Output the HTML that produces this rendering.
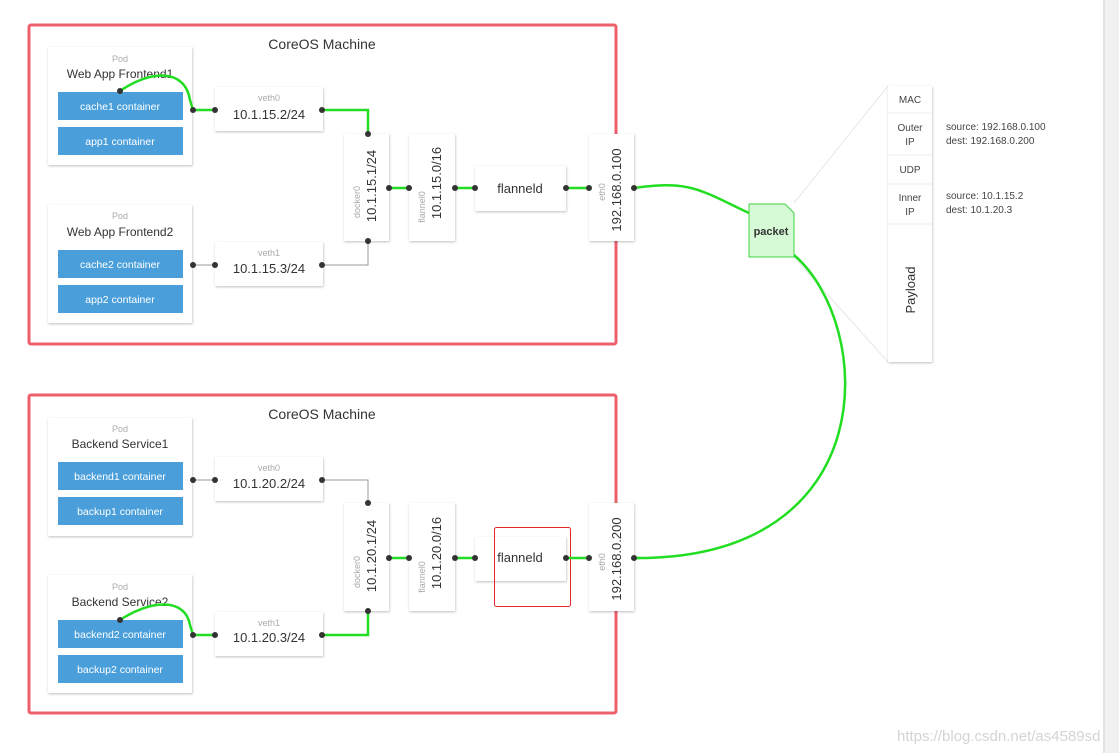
<!DOCTYPE html>
<html><head><meta charset="utf-8"><style>
html,body{margin:0;padding:0;background:#fff;width:1119px;height:753px;overflow:hidden}
svg{display:block;font-family:"Liberation Sans","DejaVu Sans",sans-serif}
.bx{fill:#fff;filter:url(#sh)}
.sm{font-size:9px;fill:#aaa}
.ip{font-size:13px;fill:#333}
.bl{fill:#4a9fdb}
.ct{font-size:10.5px;fill:#fff}
.g{stroke:#22dd22;stroke-width:2.5;fill:none}
.gr{stroke:#999;stroke-width:1;fill:none}
.d{fill:#333}
</style></head><body>
<svg width="1119" height="753" viewBox="0 0 1119 753" xmlns="http://www.w3.org/2000/svg">
<defs><filter id="sh" x="-10%" y="-10%" width="130%" height="130%"><feDropShadow dx="0.5" dy="1" stdDeviation="1.2" flood-color="#000" flood-opacity="0.25"/></filter></defs>

<!-- machines -->
<rect x="29" y="25" width="587" height="319" rx="2" fill="none" stroke="#ec5f6b" stroke-width="3"/>
<text x="322" y="49" text-anchor="middle" font-size="14" fill="#333">CoreOS Machine</text>
<rect x="29" y="395" width="587" height="318" rx="2" fill="none" stroke="#ec5f6b" stroke-width="3"/>
<text x="322" y="419" text-anchor="middle" font-size="14" fill="#333">CoreOS Machine</text>

<!-- packet detail lines -->
<line x1="794" y1="203" x2="888" y2="86" stroke="#e8e8e8"/>
<line x1="794" y1="257" x2="888" y2="362" stroke="#e8e8e8"/>

<!-- top pods -->
<rect class="bx" x="48" y="47" width="144" height="118"/>
<text x="120" y="62" text-anchor="middle" font-size="9" fill="#aaa">Pod</text>
<text x="120" y="78" text-anchor="middle" font-size="12" fill="#333">Web App Frontend1</text>
<rect class="bl" x="58" y="92" width="125" height="28"/><text class="ct" x="120" y="110" text-anchor="middle">cache1 container</text>
<rect class="bl" x="58" y="127" width="125" height="28"/><text class="ct" x="120" y="145" text-anchor="middle">app1 container</text>

<rect class="bx" x="48" y="205" width="144" height="118"/>
<text x="120" y="219" text-anchor="middle" font-size="9" fill="#aaa">Pod</text>
<text x="120" y="236" text-anchor="middle" font-size="12" fill="#333">Web App Frontend2</text>
<rect class="bl" x="58" y="250" width="125" height="28"/><text class="ct" x="120" y="268" text-anchor="middle">cache2 container</text>
<rect class="bl" x="58" y="285" width="125" height="28"/><text class="ct" x="120" y="303" text-anchor="middle">app2 container</text>

<!-- bottom pods -->
<rect class="bx" x="48" y="418" width="144" height="118"/>
<text x="120" y="432" text-anchor="middle" font-size="9" fill="#aaa">Pod</text>
<text x="120" y="448" text-anchor="middle" font-size="12" fill="#333">Backend Service1</text>
<rect class="bl" x="58" y="462" width="125" height="28"/><text class="ct" x="120" y="480" text-anchor="middle">backend1 container</text>
<rect class="bl" x="58" y="497" width="125" height="28"/><text class="ct" x="120" y="515" text-anchor="middle">backup1 container</text>

<rect class="bx" x="48" y="575" width="144" height="118"/>
<text x="120" y="590" text-anchor="middle" font-size="9" fill="#aaa">Pod</text>
<text x="120" y="606" text-anchor="middle" font-size="12" fill="#333">Backend Service2</text>
<rect class="bl" x="58" y="620" width="125" height="28"/><text class="ct" x="120" y="638" text-anchor="middle">backend2 container</text>
<rect class="bl" x="58" y="655" width="125" height="28"/><text class="ct" x="120" y="673" text-anchor="middle">backup2 container</text>

<!-- veth boxes -->
<rect class="bx" x="215" y="87" width="108" height="44"/>
<text x="269" y="101" text-anchor="middle" class="sm">veth0</text><text x="269" y="119" text-anchor="middle" class="ip">10.1.15.2/24</text>
<rect class="bx" x="215" y="242" width="108" height="44"/>
<text x="269" y="256" text-anchor="middle" class="sm">veth1</text><text x="269" y="273" text-anchor="middle" class="ip">10.1.15.3/24</text>
<rect class="bx" x="215" y="457" width="108" height="44"/>
<text x="269" y="471" text-anchor="middle" class="sm">veth0</text><text x="269" y="488" text-anchor="middle" class="ip">10.1.20.2/24</text>
<rect class="bx" x="215" y="612" width="108" height="44"/>
<text x="269" y="626" text-anchor="middle" class="sm">veth1</text><text x="269" y="642" text-anchor="middle" class="ip">10.1.20.3/24</text>

<!-- top vertical boxes -->
<rect class="bx" x="344" y="134" width="45" height="107"/>
<text class="sm" text-anchor="middle" transform="translate(360,202) rotate(-90)">docker0</text>
<text class="ip" text-anchor="middle" transform="translate(376,186) rotate(-90)">10.1.15.1/24</text>
<rect class="bx" x="409" y="134" width="46" height="107"/>
<text class="sm" text-anchor="middle" transform="translate(425,207) rotate(-90)">flannel0</text>
<text class="ip" text-anchor="middle" transform="translate(441,183) rotate(-90)">10.1.15.0/16</text>
<rect class="bx" x="475" y="166" width="91" height="45"/>
<text x="520" y="193" text-anchor="middle" class="ip">flanneld</text>
<rect class="bx" x="589" y="134" width="45" height="107"/>
<text class="sm" text-anchor="middle" transform="translate(605,192) rotate(-90)">eth0</text>
<text class="ip" text-anchor="middle" transform="translate(621,190) rotate(-90)">192.168.0.100</text>

<!-- bottom vertical boxes -->
<rect class="bx" x="344" y="503" width="45" height="108"/>
<text class="sm" text-anchor="middle" transform="translate(360,572) rotate(-90)">docker0</text>
<text class="ip" text-anchor="middle" transform="translate(376,556) rotate(-90)">10.1.20.1/24</text>
<rect class="bx" x="409" y="503" width="46" height="108"/>
<text class="sm" text-anchor="middle" transform="translate(425,577) rotate(-90)">flannel0</text>
<text class="ip" text-anchor="middle" transform="translate(441,553) rotate(-90)">10.1.20.0/16</text>
<rect class="bx" x="475" y="537" width="91" height="44"/>
<text x="520" y="562" text-anchor="middle" class="ip">flanneld</text>
<rect class="bx" x="589" y="503" width="45" height="108"/>
<text class="sm" text-anchor="middle" transform="translate(605,562) rotate(-90)">eth0</text>
<text class="ip" text-anchor="middle" transform="translate(621,559) rotate(-90)">192.168.0.200</text>
<rect x="494.5" y="527.5" width="76" height="79" rx="2" fill="none" stroke="#e8262a" stroke-width="1"/>

<!-- connectors top -->
<path class="g" d="M120,91 C150,70 185,68 190,100 L193,110 L215,110"/>
<path class="g" d="M322,110 L368,110 L368,134"/>
<path class="gr" d="M193,265 L215,265 M322,265 L368,265 L368,241"/>
<path class="g" d="M389,188 L409,188 M455,188 L475,188 M566,188 L589,188"/>
<path class="g" d="M634,188 C690,180 700,190 749,213"/>
<path class="g" d="M794,255 C875,325 885,560 634,558"/>
<!-- connectors bottom -->
<path class="gr" d="M193,480 L215,480 M322,480 L368,480 L368,503"/>
<path class="g" d="M120,620 C150,600 185,597 190,625 L193,635 L215,635"/>
<path class="g" d="M322,635 L368,635 L368,611"/>
<path class="g" d="M389,558 L409,558 M455,558 L475,558 M566,558 L589,558 M634,558 L640,558"/>

<!-- dots -->
<g class="d">
<circle cx="120" cy="91" r="3"/><circle cx="193" cy="110" r="3"/><circle cx="215" cy="110" r="3"/><circle cx="322" cy="110" r="3"/><circle cx="368" cy="134" r="3"/>
<circle cx="193" cy="265" r="3"/><circle cx="215" cy="265" r="3"/><circle cx="322" cy="265" r="3"/><circle cx="368" cy="241" r="3"/>
<circle cx="389" cy="188" r="3"/><circle cx="409" cy="188" r="3"/><circle cx="455" cy="188" r="3"/><circle cx="475" cy="188" r="3"/><circle cx="566" cy="188" r="3"/><circle cx="589" cy="188" r="3"/><circle cx="634" cy="188" r="3"/>
<circle cx="193" cy="480" r="3"/><circle cx="215" cy="480" r="3"/><circle cx="322" cy="480" r="3"/><circle cx="368" cy="503" r="3"/>
<circle cx="120" cy="620" r="3"/><circle cx="193" cy="635" r="3"/><circle cx="215" cy="635" r="3"/><circle cx="322" cy="635" r="3"/><circle cx="368" cy="611" r="3"/>
<circle cx="389" cy="558" r="3"/><circle cx="409" cy="558" r="3"/><circle cx="455" cy="558" r="3"/><circle cx="475" cy="558" r="3"/><circle cx="566" cy="558" r="3"/><circle cx="589" cy="558" r="3"/><circle cx="634" cy="558" r="3"/>
</g>

<!-- packet -->
<path d="M749,204 L785,204 L794,213 L794,257 L749,257 Z" fill="#d6fad6" stroke="#3fd43f" stroke-width="1"/>
<text x="771" y="235" text-anchor="middle" font-size="11" font-weight="bold" fill="#333">packet</text>

<!-- packet detail column -->
<rect class="bx" x="888" y="86" width="44" height="276"/>
<g stroke="#eee"><line x1="888" y1="113" x2="932" y2="113"/><line x1="888" y1="155" x2="932" y2="155"/><line x1="888" y1="184" x2="932" y2="184"/><line x1="888" y1="224" x2="932" y2="224"/></g>
<g font-size="10" fill="#444" text-anchor="middle">
<text x="910" y="103">MAC</text>
<text x="910" y="131">Outer</text><text x="910" y="145">IP</text>
<text x="910" y="173">UDP</text>
<text x="910" y="201">Inner</text><text x="910" y="215">IP</text>
</g>
<text class="ip" text-anchor="middle" transform="translate(915,290) rotate(-90)">Payload</text>
<g font-size="10" fill="#444">
<text x="946" y="130">source: 192.168.0.100</text><text x="946" y="144">dest: 192.168.0.200</text>
<text x="946" y="199">source: 10.1.15.2</text><text x="946" y="213">dest: 10.1.20.3</text>
</g>

<text x="897" y="741" font-size="15" fill="#d4d4d4">https://blog.csdn.net/as4589sd</text>
<rect x="1103" y="0" width="16" height="753" fill="#f1f1f1"/>
<rect x="1103" y="0" width="2" height="753" fill="#e2e2e2"/>
</svg>
</body></html>
